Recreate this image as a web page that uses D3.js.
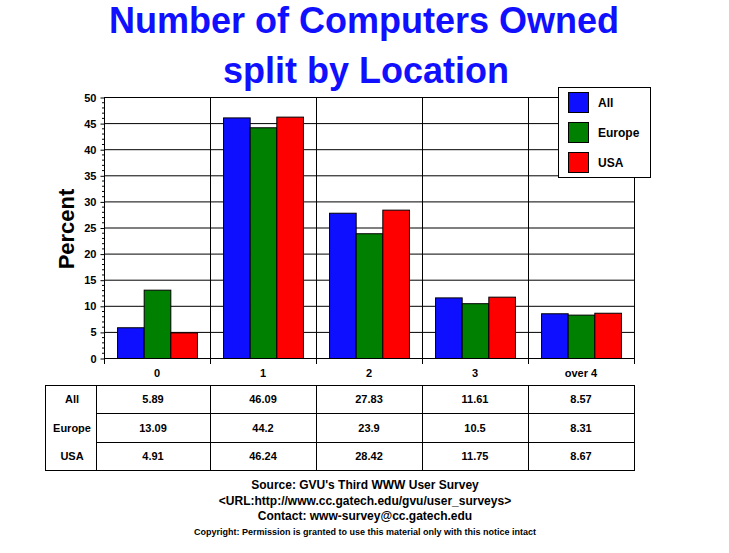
<!DOCTYPE html>
<html><head><meta charset="utf-8">
<script src="https://cdn.jsdelivr.net/npm/d3@7"></script>
<style>body{margin:0;background:#fff}svg{display:block}text{font-family:"Liberation Sans",Arial,sans-serif;font-weight:bold}</style>
</head><body><svg id="c" width="729" height="553"></svg>
<script>
const categories = ["0","1","2","3","over 4"];
const seriesNames = ["All","Europe","USA"];
const allValues = [5.89,46.09,27.83,11.61,8.57];
const europeValues = [13.09,44.2,23.9,10.5,8.31];
const usaValues = [4.91,46.24,28.42,11.75,8.67];
const tableLabels = [["5.89","46.09","27.83","11.61","8.57"],["13.09","44.2","23.9","10.5","8.31"],["4.91","46.24","28.42","11.75","8.67"]];
const colors = ["#0f0fff","#008000","#ff0000"];
const yTicks = [0,5,10,15,20,25,30,35,40,45,50];
const series = [allValues, europeValues, usaValues];

const svg = d3.select("#c");
const L=104,R=634,T=97,B=358;
const x = d3.scaleBand().domain(categories).range([L,R]);
const y = d3.scaleLinear().domain([0,50]).range([B,T]);
const xs = d3.scaleBand().domain(seriesNames).range([0,x.bandwidth()]).paddingOuter(0.49).paddingInner(0);

// title
svg.append("text").attr("x",364).attr("y",33).attr("text-anchor","middle").attr("fill","#1010ff").attr("font-size",36).text("Number of Computers Owned");
svg.append("text").attr("x",366).attr("y",83).attr("text-anchor","middle").attr("fill","#1010ff").attr("font-size",36).text("split by Location");

// grid horizontal
const g = svg.append("g");
g.selectAll(".hg").data(yTicks).join("line").attr("x1",L).attr("x2",R).attr("y1",d=>y(d)+0.5).attr("y2",d=>y(d)+0.5).attr("stroke","#000");
// vertical grid at category boundaries
const bounds = categories.map(c=>x(c)).concat([R]);
g.selectAll(".vg").data(bounds.slice(1)).join("line").attr("x1",d=>d+0.5).attr("x2",d=>d+0.5).attr("y1",T).attr("y2",B+6).attr("stroke","#000");
g.append("line").attr("x1",L+0.5).attr("x2",L+0.5).attr("y1",B+6).attr("y2",B).attr("stroke","#000");

// bars
categories.forEach((c,i)=>{
  seriesNames.forEach((s,j)=>{
    svg.append("rect").attr("x",x(c)+xs(s)+0.5).attr("y",y(series[j][i])+0.5)
      .attr("width",xs.bandwidth()).attr("height",y(0)-y(series[j][i]))
      .attr("fill",colors[j]).attr("stroke","#000").attr("stroke-width",1);
  });
});

// y axis
const ya = svg.append("g").attr("transform",`translate(${L+0.5},0.5)`)
  .call(d3.axisLeft(y).tickValues(yTicks).tickSize(4).tickPadding(4));
ya.select(".domain").remove();
ya.selectAll("text").attr("font-size",11).attr("font-family","Liberation Sans, Arial").attr("font-weight","bold").attr("fill","#000");
const minor = d3.range(0,51).filter(v=>v%5!==0);
svg.append("g").selectAll("line").data(minor).join("line").attr("x1",L-2).attr("x2",L).attr("y1",d=>y(d)+0.5).attr("y2",d=>y(d)+0.5).attr("stroke","#000");
svg.append("line").attr("x1",L+0.5).attr("x2",L+0.5).attr("y1",T).attr("y2",B).attr("stroke","#000");
svg.append("line").attr("x1",L).attr("x2",R).attr("y1",B+0.5).attr("y2",B+0.5).attr("stroke","#000");

// x category labels
svg.append("g").selectAll("text").data(categories).join("text").attr("x",d=>x(d)+x.bandwidth()/2).attr("y",377)
  .attr("text-anchor","middle").attr("font-size",11).text(d=>d);

// y label
svg.append("text").attr("transform","translate(74,229) rotate(-90)").attr("text-anchor","middle").attr("font-size",22).text("Percent");

// legend
const lg = svg.append("g");
lg.append("rect").attr("x",558.5).attr("y",87.5).attr("width",92).attr("height",90).attr("fill","#fff").attr("stroke","#000");
seriesNames.forEach((s,j)=>{
  lg.append("rect").attr("x",568.5).attr("y",92.5+30*j).attr("width",20).attr("height",20).attr("fill",colors[j]).attr("stroke","#000");
  lg.append("text").attr("x",598).attr("y",107+30*j).attr("font-size",12).text(s);
});

// table
const tT=385,tB=470,tL=45,rowH=(tB-tT)/3;
const tg = svg.append("g");
tg.append("rect").attr("x",tL+0.5).attr("y",tT+0.5).attr("width",R-tL).attr("height",tB-tT).attr("fill","none").attr("stroke","#000");
tg.append("line").attr("x1",96.5).attr("x2",96.5).attr("y1",tT).attr("y2",tB).attr("stroke","#000");
tg.selectAll(".tv").data(bounds.slice(1,-1)).join("line").attr("x1",d=>d+0.5).attr("x2",d=>d+0.5).attr("y1",tT).attr("y2",tB).attr("stroke","#000");
[1,2].forEach(k=>tg.append("line").attr("x1",96).attr("x2",R).attr("y1",Math.round(tT+rowH*k)+0.5).attr("y2",Math.round(tT+rowH*k)+0.5).attr("stroke","#000"));
seriesNames.forEach((s,j)=>{
  const cy = tT+rowH*j+rowH/2+4;
  tg.append("text").attr("x",72).attr("y",cy).attr("text-anchor","middle").attr("font-size",11).text(s);
  categories.forEach((c,i)=>{
    const x0 = i===0?96:x(c), x1 = x(c)+x.bandwidth();
    tg.append("text").attr("x",(x0+x1)/2).attr("y",cy).attr("text-anchor","middle").attr("font-size",11).text(tableLabels[j][i]);
  });
});

// footer
const foot = [["Source: GVU's Third WWW User Survey",489,12],["<URL:http://www.cc.gatech.edu/gvu/user_surveys>",505,12],["Contact: www-survey@cc.gatech.edu",520,12],["Copyright: Permission is granted to use this material only with this notice intact",535,9]];
svg.append("g").selectAll("text").data(foot).join("text").attr("x",365).attr("y",d=>d[1]).attr("text-anchor","middle").attr("font-size",d=>d[2]).text(d=>d[0]);
</script></body></html>
